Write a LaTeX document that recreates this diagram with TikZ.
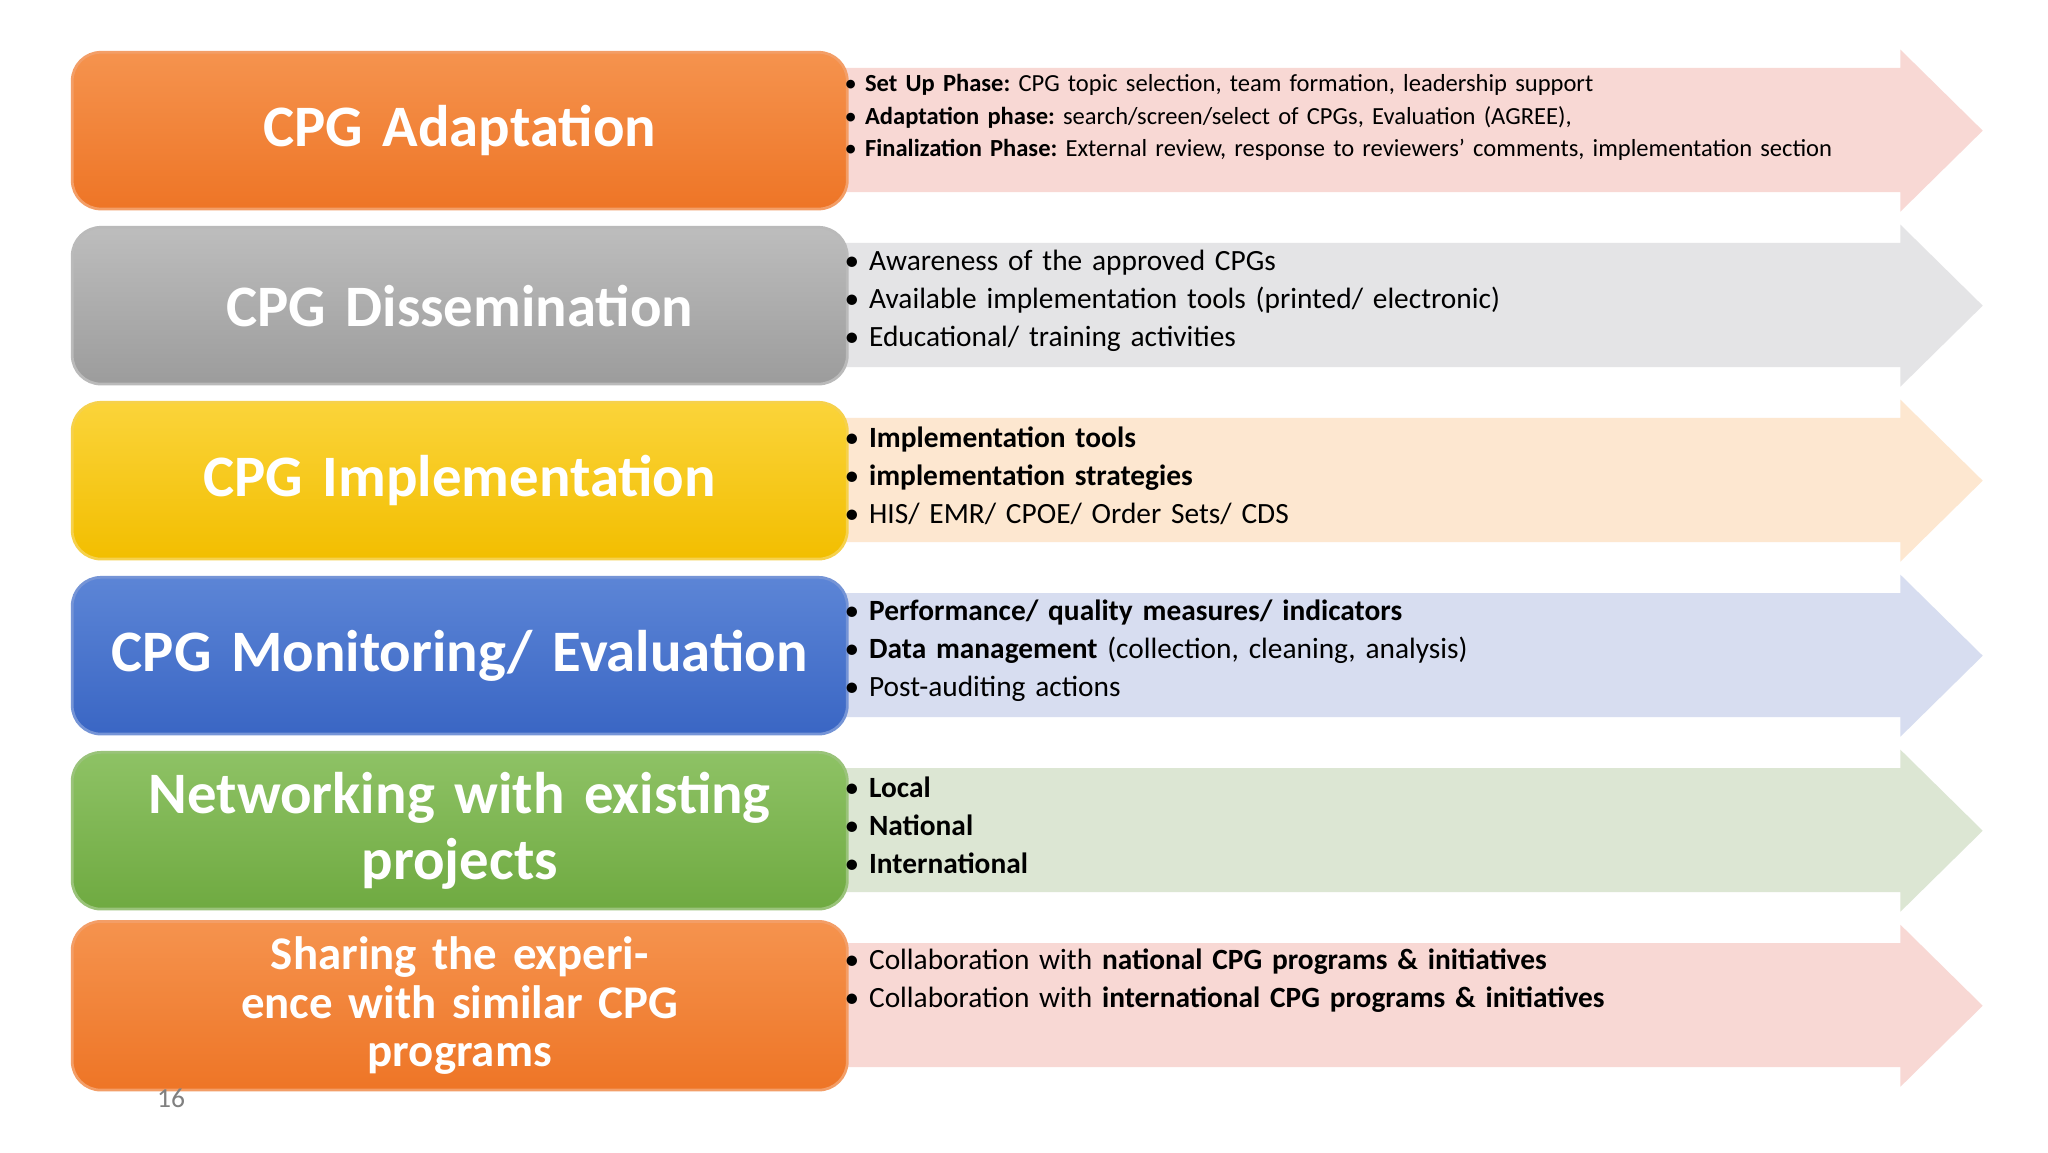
\documentclass[tikz,border=0pt]{standalone}
\usepackage{fontspec}
\setmainfont{Carlito}
\begin{document}
\frenchspacing
\begin{tikzpicture}[x=1cm,y=-1cm,
  box/.style={rounded corners=0.22cm,draw=#1!70!white,line width=0.6pt,minimum width=5.8cm,minimum height=1.2cm,text=white,font=\bfseries\fontsize{12.8}{14.2}\selectfont,align=center,text width=5.7cm},
  arr/.style={fill=#1},
  body/.style={anchor=west,font=\fontsize{6.4}{8.3}\selectfont,align=left,text width=9.5cm,inner sep=0pt}]
\useasboundingbox[fill=white] (0,0) rectangle (15.68,8.82);
\definecolor{or}{HTML}{EE7526}\definecolor{orl}{HTML}{F5934E}
\definecolor{gr}{HTML}{9C9C9C}\definecolor{grl}{HTML}{BDBDBD}
\definecolor{ye}{HTML}{F2BE00}\definecolor{yel}{HTML}{FBD43A}
\definecolor{bl}{HTML}{3A66C4}\definecolor{bll}{HTML}{5C85D6}
\definecolor{gn}{HTML}{6FAA41}\definecolor{gnl}{HTML}{8EC265}
\definecolor{a1}{HTML}{F8D8D4}\definecolor{a2}{HTML}{E4E4E6}\definecolor{a3}{HTML}{FDE7D0}
\definecolor{a4}{HTML}{D7DDF0}\definecolor{a5}{HTML}{DCE6D3}
\foreach \i/\c in {0/a1,1/a2,2/a3,3/a4,4/a5,5/a1}{
  \pgfmathsetmacro{\t}{0.40+1.34*\i}
  \fill[\c] (6.42,\t+0.12) -- (14.55,\t+0.12) -- (14.55,\t-0.02) -- (15.18,\t+0.6) -- (14.55,\t+1.22) -- (14.55,\t+1.07) -- (6.42,\t+1.07) -- cycle;
}
\node[box=or,top color=orl,bottom color=or] (b1) at (3.52,1.0) {CPG Adaptation};
\node[box=gr,top color=grl,bottom color=gr] (b2) at (3.52,2.34) {CPG Dissemination};
\node[box=ye,top color=yel,bottom color=ye] (b3) at (3.52,3.68) {CPG Implementation};
\node[box=bl,top color=bll,bottom color=bl] (b4) at (3.52,5.02) {CPG Monitoring/ Evaluation};
\node[box=gn,top color=gnl,bottom color=gn] (b5) at (3.52,6.36) {Networking with existing\\projects};
\node[box=or,top color=orl,bottom color=or,font=\bfseries\fontsize{10.2}{10.6}\selectfont] (b6) at (3.52,7.70) {Sharing the experience with similar CPG\\programs};
\node[body,font=\fontsize{5.35}{7.1}\selectfont] (t1) at (6.46,0.90) {%
\textbullet\ \textbf{Set Up Phase:} CPG topic selection, team formation, leadership support\\
\textbullet\ \textbf{Adaptation phase:} search/screen/select of CPGs, Evaluation (AGREE),\\
\textbullet\ \textbf{Finalization Phase:} External review, response to reviewers' comments, implementation section};
\node[body] (t2) at (6.46,2.30) {\textbullet\ Awareness of the approved CPGs\\\textbullet\ Available implementation tools (printed/ electronic)\\\textbullet\ Educational/ training activities};
\node[body] (t3) at (6.46,3.64) {\textbullet\ \textbf{Implementation tools}\\\textbullet\ \textbf{implementation strategies}\\\textbullet\ HIS/ EMR/ CPOE/ Order Sets/ CDS};
\node[body] (t4) at (6.46,4.98) {\textbullet\ \textbf{Performance/ quality measures/ indicators}\\\textbullet\ \textbf{Data management} (collection, cleaning, analysis)\\\textbullet\ Post-auditing actions};
\node[body] (t5) at (6.46,6.32) {\textbullet\ \textbf{Local}\\\textbullet\ \textbf{National}\\\textbullet\ \textbf{International}};
\node[body] (t6) at (6.46,7.51) {\textbullet\ Collaboration with \textbf{national CPG programs \& initiatives}\\\textbullet\ Collaboration with \textbf{international CPG programs \& initiatives}};
\node[text=gray,font=\fontsize{6}{7}\selectfont] (pg) at (1.31,8.41) {16};
\end{tikzpicture}
\end{document}
